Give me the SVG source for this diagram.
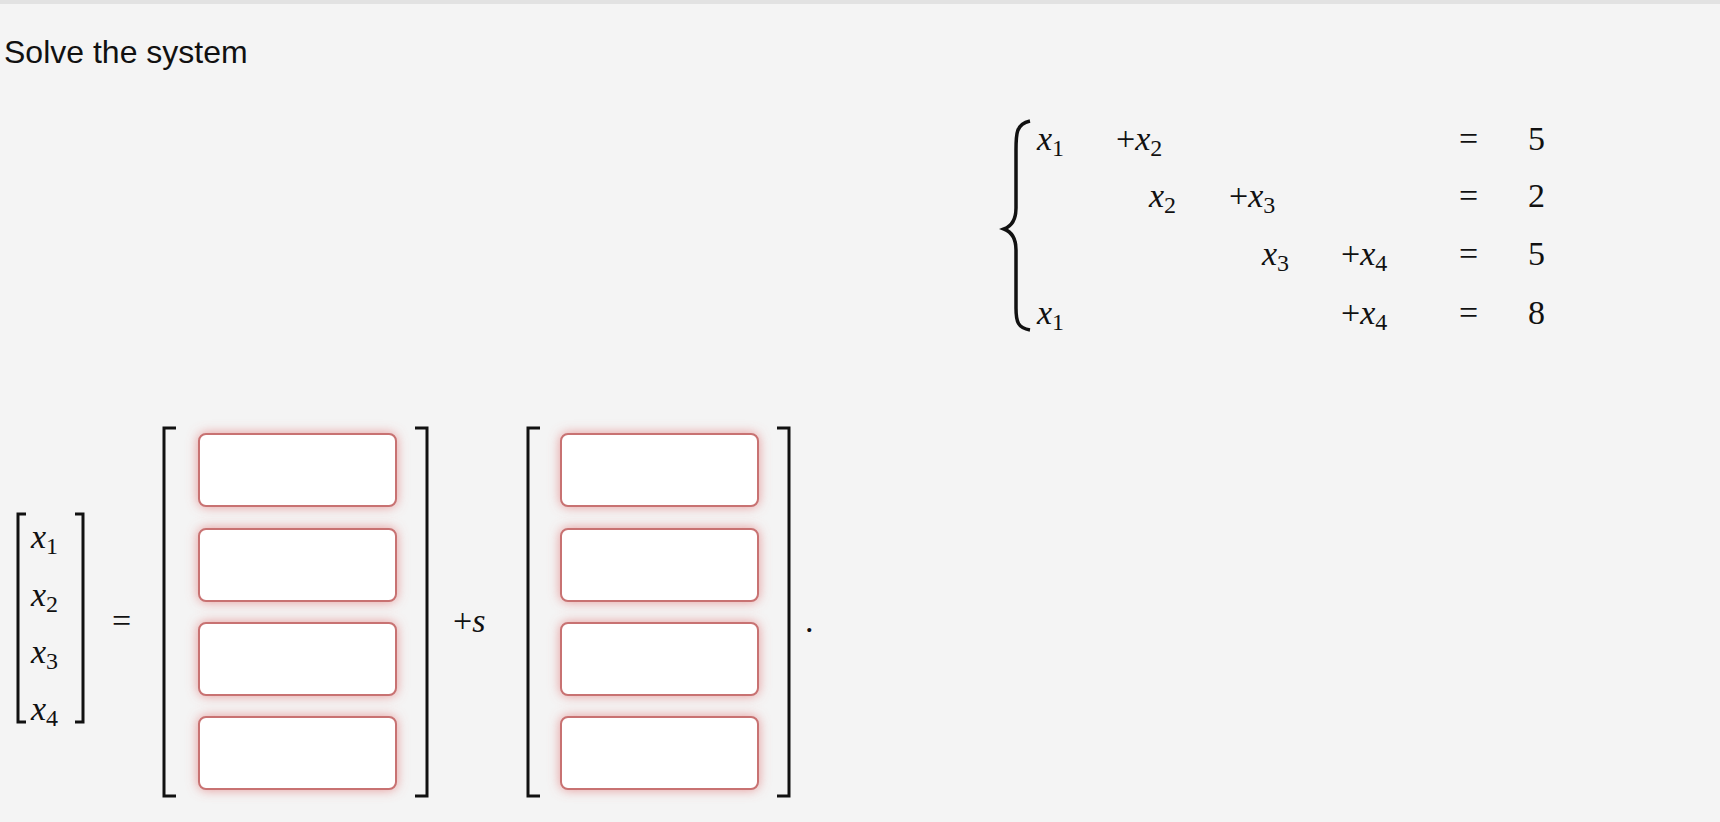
<svg xmlns="http://www.w3.org/2000/svg" width="1720" height="822" viewBox="0 0 1720 822">
<defs>
<filter id="glow" x="-20%" y="-40%" width="140%" height="180%"><feFlood flood-color="#e07070" flood-opacity="0.7"/><feComposite operator="in" in2="SourceAlpha"/><feGaussianBlur stdDeviation="6"/><feMerge><feMergeNode/><feMergeNode in="SourceGraphic"/></feMerge></filter>
</defs>
<style>
.m{font-family:'Liberation Serif','DejaVu Serif',serif;font-size:34px;fill:#111}
.i{font-style:italic}
.s{font-size:24px;font-style:normal}
.t{font-family:'Liberation Sans',Arial,sans-serif;font-size:32px;fill:#111}
.box{fill:#fff;stroke:#c87272;stroke-width:2;filter:url(#glow)}
.br{fill:none;stroke:#111;stroke-width:3}
</style>
<rect width="1720" height="822" fill="#f4f4f4"/>
<rect width="1720" height="4" fill="#e2e2e2"/>
<text class="t" x="4" y="63">Solve the system</text>
<g id="system">
<path d="M1030,121 C1016,124 1016,134 1016,150 L1016,208 C1016,220 1012,226 1004,229 C1012,232 1016,238 1016,250 L1016,308 C1016,322 1018,328 1030,330" fill="none" stroke="#111" stroke-width="3.5"/>
<g class="m" font-family="Liberation Serif, serif">
<text x="1037" y="150"><tspan class="i">x</tspan><tspan class="s" dy="6">1</tspan></text>
<text x="1116" y="150">+<tspan class="i">x</tspan><tspan class="s" dy="6">2</tspan></text>
<text x="1459" y="150">=</text><text x="1528" y="150">5</text>
<text x="1149" y="207"><tspan class="i">x</tspan><tspan class="s" dy="6">2</tspan></text>
<text x="1229" y="207">+<tspan class="i">x</tspan><tspan class="s" dy="6">3</tspan></text>
<text x="1459" y="207">=</text><text x="1528" y="207">2</text>
<text x="1262" y="265"><tspan class="i">x</tspan><tspan class="s" dy="6">3</tspan></text>
<text x="1341" y="265">+<tspan class="i">x</tspan><tspan class="s" dy="6">4</tspan></text>
<text x="1459" y="265">=</text><text x="1528" y="265">5</text>
<text x="1037" y="324"><tspan class="i">x</tspan><tspan class="s" dy="6">1</tspan></text>
<text x="1341" y="324">+<tspan class="i">x</tspan><tspan class="s" dy="6">4</tspan></text>
<text x="1459" y="324">=</text><text x="1528" y="324">8</text>
</g>
</g>
<g id="xvec">
<path class="br" d="M26,514 H18 V722 H26 M75,514 H83 V722 H75"/>
<g class="m" font-family="Liberation Serif, serif">
<text x="31" y="548"><tspan class="i">x</tspan><tspan class="s" dy="6">1</tspan></text>
<text x="31" y="606"><tspan class="i">x</tspan><tspan class="s" dy="6">2</tspan></text>
<text x="31" y="663"><tspan class="i">x</tspan><tspan class="s" dy="6">3</tspan></text>
<text x="31" y="720"><tspan class="i">x</tspan><tspan class="s" dy="6">4</tspan></text>
<text x="112" y="632">=</text>
<text x="453" y="632">+<tspan class="i">s</tspan></text>
<text x="805" y="632">.</text>
</g>
</g>
<g id="vec1">
<path class="br" d="M176,428 H164 V796 H176 M415,428 H427 V796 H415"/>
<rect class="box" x="199" y="434" width="197" height="72" rx="7"/>
<rect class="box" x="199" y="529" width="197" height="72" rx="7"/>
<rect class="box" x="199" y="623" width="197" height="72" rx="7"/>
<rect class="box" x="199" y="717" width="197" height="72" rx="7"/>
</g>
<g id="vec2">
<path class="br" d="M540,428 H528 V796 H540 M777,428 H789 V796 H777"/>
<rect class="box" x="561" y="434" width="197" height="72" rx="7"/>
<rect class="box" x="561" y="529" width="197" height="72" rx="7"/>
<rect class="box" x="561" y="623" width="197" height="72" rx="7"/>
<rect class="box" x="561" y="717" width="197" height="72" rx="7"/>
</g>
<g id="connectors"/>
</svg>
